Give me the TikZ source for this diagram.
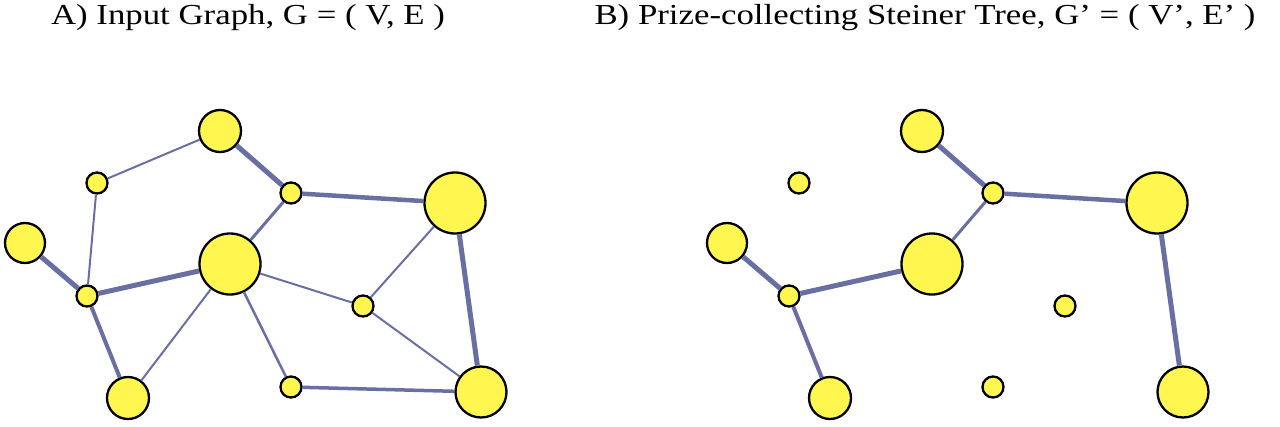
\documentclass[tikz,border=0pt]{standalone}
\usepackage{fontspec}
\setmainfont{Liberation Serif}
\begin{document}
\begin{tikzpicture}[x=1pt,y=-1pt]
\definecolor{ec}{HTML}{6A6FA3}
\definecolor{yc}{HTML}{FFF64F}
\tikzset{v/.style={circle,draw=black,line width=2.3pt,fill=yc,inner sep=0pt,minimum size=#1},
  e/.style={draw=ec,line width=#1},
  ttl/.style={font=\fontsize{29}{32}\selectfont,xscale=1.2}}
\useasboundingbox (0,0) rectangle (1280,426);
\node[ttl] (t1) at (248,18) {A) Input Graph, G = ( V, E )};
\node[ttl] (t2) at (925,18) {B) Prize-collecting Steiner Tree, G’ = ( V’, E’ )};
\foreach \p/\dx in {l/0,r/702}{
  \begin{scope}[xshift=\dx]
  \node[v=42] (\p A) at (220,131) {};
  \node[v=21] (\p B) at (97,183) {};
  \node[v=21] (\p C) at (291,193) {};
  \node[v=61] (\p D) at (455,203) {};
  \node[v=40] (\p E) at (25,243) {};
  \node[v=61] (\p F) at (230,264) {};
  \node[v=21] (\p G) at (87,296) {};
  \node[v=21] (\p H) at (363,306) {};
  \node[v=42] (\p I) at (128,398) {};
  \node[v=21] (\p J) at (291,387) {};
  \node[v=51] (\p K) at (481,392) {};
  \end{scope}}
\foreach \p in {l,r}{
  \path[e=5pt] (\p A) -- (\p C);
  \path[e=4.5pt] (\p C) -- (\p D);
  \path[e=3pt] (\p C) -- (\p F);
  \path[e=5pt] (\p E) -- (\p G);
  \path[e=5pt] (\p G) -- (\p F);
  \path[e=4pt] (\p G) -- (\p I);
  \path[e=5pt] (\p D) -- (\p K);
}
\path[e=2pt] (lA) -- (lB);
\path[e=2pt] (lB) -- (lG);
\path[e=2pt] (lF) -- (lI);
\path[e=2pt] (lF) -- (lH);
\path[e=2.5pt] (lF) -- (lJ);
\path[e=2pt] (lH) -- (lD);
\path[e=2pt] (lH) -- (lK);
\path[e=3.5pt] (lJ) -- (lK);
\end{tikzpicture}
\end{document}
